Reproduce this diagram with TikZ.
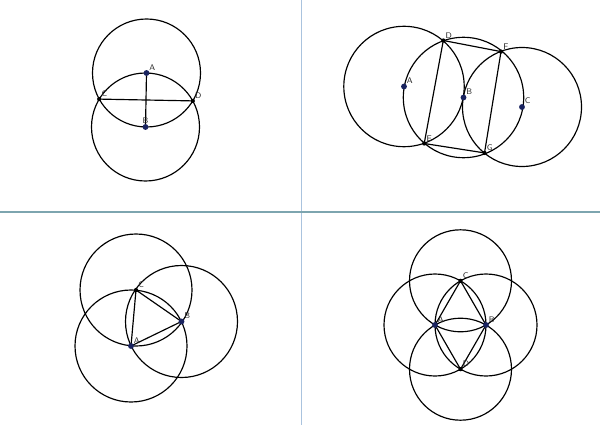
\documentclass[tikz,border=0pt]{standalone}
\usetikzlibrary{positioning}
\definecolor{ptblue}{RGB}{25,35,95}
\definecolor{rulex}{RGB}{125,165,175}
\definecolor{ruley}{RGB}{170,195,222}
\tikzset{
  bluept/.style={circle,fill=ptblue,inner sep=0pt,minimum size=5pt},
  blackpt/.style={circle,fill=black,inner sep=0pt,minimum size=3.6pt},
  lbl/.style={font=\sffamily\fontsize{7}{7}\selectfont,text=black!85,inner sep=0.4pt},
  every label/.style={lbl},
  geo/.style={draw=black,line width=1pt},
  rule/.style={line width=1pt},
}
\begin{document}
\begin{tikzpicture}[x=0.03cm,y=0.03cm]
    \useasboundingbox (0,0) rectangle (600,-425);
    % dividers
    \draw [rule, ruley] (301.5,0) -- (301.5,-425);
    \draw [rule, rulex] (0,-212) -- (600,-212);
    % top left
    \coordinate (A1) at (146.5,-73);
    \coordinate (B1) at (145.5,-127);
    \coordinate (C1) at (99.2,-99.1);
    \coordinate (D1) at (192.8,-100.9);
    \draw [geo] (A1) circle (54);
    \draw [geo] (B1) circle (54);
    \draw [geo] (C1) -- (D1);
    \draw [geo] (A1) -- (B1);
    \node [bluept, label={above right:A}] (pA1) at (A1) {};
    \node [bluept, label={above:B}] (pB1) at (B1) {};
    \node [blackpt, label={above right:C}] (pC1) at (C1) {};
    \node [blackpt, label={above right:D}] (pD1) at (D1) {};
    % top right
    \coordinate (A2) at (404,-86.5);
    \coordinate (B2) at (463.5,-97.5);
    \coordinate (C2) at (522,-107);
    \coordinate (D2) at (443.3,-40.5);
    \coordinate (E2) at (424.2,-143.5);
    \coordinate (F2) at (501,-51.6);
    \coordinate (G2) at (484.5,-152.9);
    \draw [geo] (A2) circle (60.2);
    \draw [geo] (B2) circle (60.2);
    \draw [geo] (C2) circle (59.5);
    \draw [geo] (D2) -- (E2) -- (G2) -- (F2) -- cycle;
    \node [bluept, label={above right:A}] (pA2) at (A2) {};
    \node [bluept, label={above right:B}] (pB2) at (B2) {};
    \node [bluept, label={above right:C}] (pC2) at (C2) {};
    \node [blackpt, label={above right:D}] (pD2) at (D2) {};
    \node [blackpt, label={above right:E}] (pE2) at (E2) {};
    \node [blackpt, label={above right:F}] (pF2) at (F2) {};
    \node [blackpt, label={above right:G}] (pG2) at (G2) {};
    % bottom left
    \coordinate (A3) at (131,-346);
    \coordinate (B3) at (181.5,-321.5);
    \coordinate (C3) at (136,-290);
    \draw [geo] (A3) circle (56);
    \draw [geo] (B3) circle (56);
    \draw [geo] (C3) circle (56);
    \draw [geo] (A3) -- (B3) -- (C3) -- cycle;
    \node [bluept, label={above right:A}] (pA3) at (A3) {};
    \node [bluept, label={above right:B}] (pB3) at (B3) {};
    \node [blackpt, label={above right:C}] (pC3) at (C3) {};
    % bottom right
    \coordinate (A4) at (435,-325);
    \coordinate (B4) at (486,-325);
    \coordinate (C4) at (460.5,-280.8);
    \coordinate (D4) at (460.5,-369.2);
    \draw [geo] (A4) circle (51);
    \draw [geo] (B4) circle (51);
    \draw [geo] (C4) circle (51);
    \draw [geo] (D4) circle (51);
    \draw [geo] (A4) -- (C4) -- (B4) -- (D4) -- cycle;
    \node [bluept, label={above right:A}] (pA4) at (A4) {};
    \node [bluept, label={above right:B}] (pB4) at (B4) {};
    \node [blackpt, label={above right:C}] (pC4) at (C4) {};
    \node [blackpt, label={above right:D}] (pD4) at (D4) {};
\end{tikzpicture}
\end{document}
